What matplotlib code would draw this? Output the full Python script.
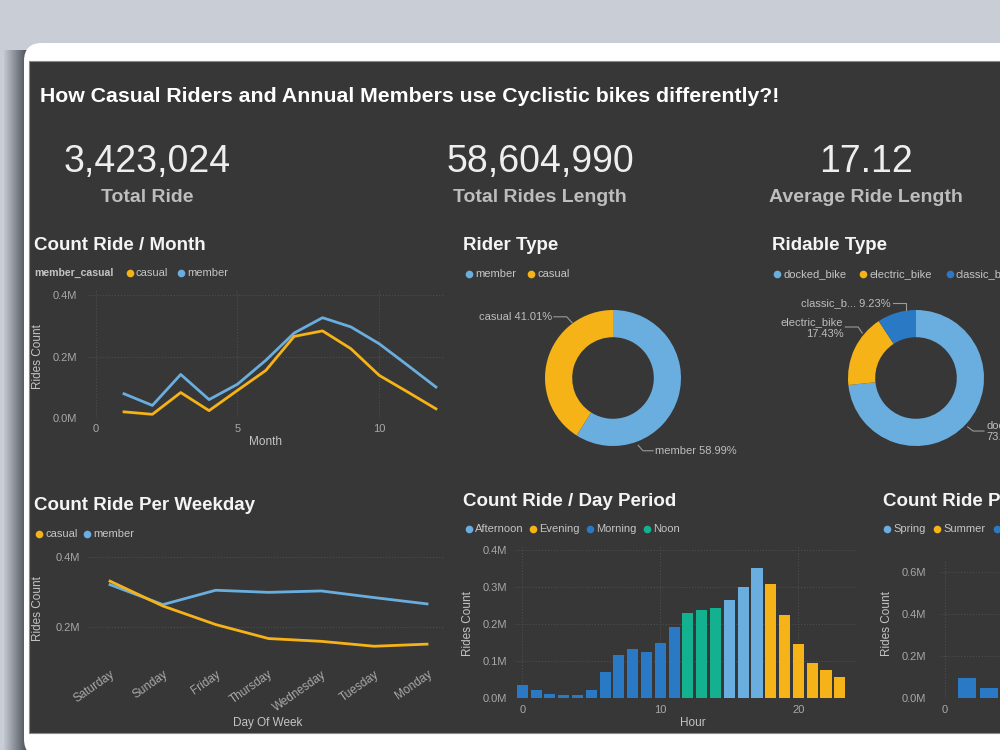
import numpy as np
import matplotlib
matplotlib.use("Agg")
import matplotlib.pyplot as plt
from matplotlib.patches import FancyBboxPatch, Rectangle
from matplotlib.colors import LinearSegmentedColormap
from matplotlib.ticker import FuncFormatter

plt.rcParams['font.family'] = ['Liberation Sans', 'DejaVu Sans']

# ---- data ----
kpi_values = ['3,423,024', '58,604,990', '17.12']
kpi_labels = ['Total Ride', 'Total Rides Length', 'Average Ride Length']

months = [1, 2, 3, 4, 5, 6, 7, 8, 9, 10, 11, 12]
month_casual = [0.020, 0.012, 0.083, 0.024, 0.090, 0.155, 0.266, 0.284, 0.226, 0.139, 0.085, 0.030]
month_member = [0.079, 0.041, 0.142, 0.060, 0.110, 0.188, 0.277, 0.327, 0.297, 0.242, 0.172, 0.101]

rider_types = ['member', 'casual']
rider_share = [58.99, 41.01]

bike_types = ['docked_bike', 'electric_bike', 'classic_bike']
bike_share = [73.34, 17.43, 9.23]

weekdays = ['Saturday', 'Sunday', 'Friday', 'Thursday', 'Wednesday', 'Tuesday', 'Monday']
weekday_casual = [0.331, 0.260, 0.207, 0.167, 0.159, 0.145, 0.151]
weekday_member = [0.321, 0.264, 0.305, 0.299, 0.303, 0.284, 0.266]

hours = list(range(24))
hour_counts = [0.034, 0.021, 0.012, 0.007, 0.007, 0.022, 0.069, 0.116, 0.132, 0.125, 0.148, 0.192,
               0.230, 0.238, 0.244, 0.265, 0.300, 0.350, 0.307, 0.223, 0.146, 0.095, 0.076, 0.058]
hour_period = ['Morning'] * 12 + ['Noon'] * 3 + ['Afternoon'] * 3 + ['Evening'] * 6
periods = ['Afternoon', 'Evening', 'Morning', 'Noon']

seasons = ['Spring', 'Summer', 'Winter']
season_months = [1, 2]
season_counts = [0.094, 0.046]
season_of = ['Winter', 'Winter']

# ---- colours ----
LIGHT = '#6AAEDF'
ORANGE = '#F5B317'
DARK = '#2A79C4'
TEAL = '#13B18F'
BG = '#373737'
TICK = '#a8a8a8'
LAB = '#c4c4c4'

W, H = 1000, 750
fig = plt.figure(figsize=(10, 7.5), dpi=100)
fig.patch.set_facecolor('#c9ced6')

# background layer in pixel coords
bg = fig.add_axes([0, 0, 1, 1])
bg.axis('off')
grad = LinearSegmentedColormap.from_list('sh', ['#c2c6ce', '#4c5058'])
bg.imshow(np.linspace(0, 1, 50)[None, :], extent=[4, 27, 750, 50], cmap=grad, aspect='auto')
bg.add_patch(FancyBboxPatch((24, 43), 1000, 714, boxstyle='round,pad=0,rounding_size=18',
                            fc='white', ec='none'))
bg.add_patch(Rectangle((29, 61), 990, 672, fc=BG, ec='#8a8a8a', lw=0.8))
bg.set_xlim(0, W)
bg.set_ylim(H, 0)

bg.text(40, 97, 'How Casual Riders and Annual Members use Cyclistic bikes differently?!',
        color='white', fontsize=15.3, fontweight='bold', va='center')

for cx, v, lab in zip([147, 540, 866], kpi_values, kpi_labels):
    bg.text(cx, 162, v, color='#eeeeee', fontsize=27, ha='center', va='center')
    bg.text(cx, 198, lab, color='#bdbdbd', fontsize=14, fontweight='bold', ha='center', va='center')

titles = [(34, 245, 'Count Ride / Month'), (463, 245, 'Rider Type'), (772, 245, 'Ridable Type'),
          (34, 506, 'Count Ride Per Weekday'), (463, 501, 'Count Ride / Day Period'),
          (883, 501, 'Count Ride Per Season')]
for x, y, t in titles:
    bg.text(x, y, t, color='#f4f4f4', fontsize=13.5, fontweight='bold', va='center')


def legend(items, y):
    for cx, name, col in items:
        bg.plot(cx, y - 0.5, 'o', color=col, ms=5.5, mec='none')
        bg.text(cx + 6, y, name, color=LAB, fontsize=8, va='center')


bg.text(34, 273, 'member_casual', color=LAB, fontsize=7.6, fontweight='bold', va='center')
legend([(130, 'casual', ORANGE), (181, 'member', LIGHT)], 273)
legend([(469, rider_types[0], LIGHT), (531, rider_types[1], ORANGE)], 274)
legend([(777, bike_types[0], LIGHT), (863, bike_types[1], ORANGE), (950, bike_types[2], DARK)], 274)
legend([(39, 'casual', ORANGE), (87, 'member', LIGHT)], 534)
period_col = {'Afternoon': LIGHT, 'Evening': ORANGE, 'Morning': DARK, 'Noon': TEAL}
legend([(x, p, period_col[p]) for x, p in zip([469, 533, 590, 647], periods)], 529)
season_col = {'Spring': LIGHT, 'Summer': ORANGE, 'Winter': DARK}
legend([(x, s, season_col[s]) for x, s in zip([887, 937, 997], seasons)], 529)

# axis titles
for x, y, t, rot in [(38, 357, 'Rides Count', 90), (265, 442, 'Month', 0),
                     (38, 609, 'Rides Count', 90), (268, 723, 'Day Of Week', 0),
                     (468, 624, 'Rides Count', 90), (693, 723, 'Hour', 0),
                     (887, 624, 'Rides Count', 90)]:
    bg.text(x, y, t, color=LAB, fontsize=8.5, rotation=rot, ha='center', va='center')


def px_axes(l, t, r, b):
    return fig.add_axes([l / W, 1 - b / H, (r - l) / W, (b - t) / H])


mfmt = FuncFormatter(lambda v, p: f'{v:.1f}M')


def style(ax, xgrid=True, ypad=6, xpad=4):
    ax.set_facecolor('none')
    for s in ax.spines.values():
        s.set_visible(False)
    ax.tick_params(axis='both', length=0, colors=TICK, labelsize=8)
    ax.tick_params(axis='y', pad=ypad)
    ax.tick_params(axis='x', pad=xpad)
    ax.grid(True, axis='y', color='#4e4e4e', ls=':', lw=0.8)
    if xgrid:
        ax.grid(True, axis='x', color='#4e4e4e', ls=':', lw=0.8)
    ax.set_axisbelow(True)
    ax.yaxis.set_major_formatter(mfmt)


# Count Ride / Month
ax1 = px_axes(88, 290, 445, 418)
ax1.plot(months, month_member, color=LIGHT, lw=2)
ax1.plot(months, month_casual, color=ORANGE, lw=2)
ax1.set_xlim(-0.27, 12.32)
ax1.set_ylim(0, 0.4173)
ax1.set_xticks([0, 5, 10])
ax1.set_yticks([0, 0.2, 0.4])
style(ax1, ypad=8)

# Rider Type donut
ax2 = px_axes(513, 278, 713, 478)
ax2.pie(rider_share, colors=[LIGHT, ORANGE], startangle=90, counterclock=False,
        wedgeprops=dict(width=0.4, linewidth=0))
ax2.set_xlim(-100 / 68, 100 / 68)
ax2.set_ylim(-100 / 68, 100 / 68)
ax2.plot([-0.87, -0.68, -0.60], [0.90, 0.90, 0.81], color='#9a9a9a', lw=0.8)
ax2.text(-0.90, 0.90, f'{rider_types[1]} {rider_share[1]:.2f}%', color='#bdbdbd', fontsize=8,
         ha='right', va='center')
ax2.plot([0.37, 0.44, 0.59], [-0.99, -1.07, -1.07], color='#9a9a9a', lw=0.8)
ax2.text(0.62, -1.07, f'{rider_types[0]} {rider_share[0]:.2f}%', color='#bdbdbd', fontsize=8,
         ha='left', va='center')

# Ridable Type donut
ax3 = px_axes(816, 278, 1016, 478)
ax3.pie(bike_share, colors=[LIGHT, ORANGE, DARK], startangle=90, counterclock=False,
        wedgeprops=dict(width=0.4, linewidth=0))
ax3.set_xlim(-100 / 68, 100 / 68)
ax3.set_ylim(-100 / 68, 100 / 68)
ax3.plot([-0.34, -0.15, -0.15], [1.10, 1.10, 1.0], color='#9a9a9a', lw=0.8)
ax3.text(-0.38, 1.10, f'classic_b... {bike_share[2]:.2f}%', color='#bdbdbd', fontsize=8,
         ha='right', va='center')
ax3.plot([-1.04, -0.85, -0.79], [0.75, 0.75, 0.66], color='#9a9a9a', lw=0.8)
ax3.text(-1.07, 0.74, f'{bike_types[1]}\n{bike_share[1]:.2f}%', color='#bdbdbd', fontsize=8,
         ha='right', va='center', linespacing=1.25)
ax3.plot([0.76, 0.84, 1.0], [-0.72, -0.78, -0.78], color='#9a9a9a', lw=0.8)
ax3.text(1.04, -0.78, f'{bike_types[0]}\n{bike_share[0]:.2f}%', color='#bdbdbd', fontsize=8,
         ha='left', va='center', linespacing=1.25)

# Count Ride Per Weekday
ax4 = px_axes(88, 550, 445, 660)
xi = np.arange(len(weekdays))
ax4.plot(xi, weekday_member, color=LIGHT, lw=2)
ax4.plot(xi, weekday_casual, color=ORANGE, lw=2)
ax4.set_xlim(-0.417, 6.34)
ax4.set_ylim(0.1057, 0.42)
ax4.set_yticks([0.2, 0.4])
ax4.set_xticks(xi)
ax4.set_xticklabels(weekdays, rotation=35, ha='right', rotation_mode='anchor')
style(ax4, xgrid=False, ypad=6, xpad=6)
ax4.tick_params(axis='x', labelsize=8.5)

# Count Ride / Day Period
ax5 = px_axes(515, 545, 855, 698)
ax5.bar(hours, hour_counts, width=0.8, color=[period_col[p] for p in hour_period])
ax5.set_xlim(-0.53, 24.1)
ax5.set_ylim(0, 0.4135)
ax5.set_xticks([0, 10, 20])
ax5.set_yticks([0, 0.1, 0.2, 0.3, 0.4])
style(ax5, ypad=6, xpad=5)

# Count Ride Per Season (cut off at the right edge)
ax6 = px_axes(940, 560, 1230, 698)
ax6.bar(season_months, season_counts, width=0.8, color=[season_col[s] for s in season_of])
ax6.set_xlim(-0.23, 12.95)
ax6.set_ylim(0, 0.659)
ax6.set_xticks([0, 5, 10])
ax6.set_yticks([0, 0.2, 0.4, 0.6])
style(ax6, ypad=10, xpad=5)

fig.savefig('out.png', dpi=100)
